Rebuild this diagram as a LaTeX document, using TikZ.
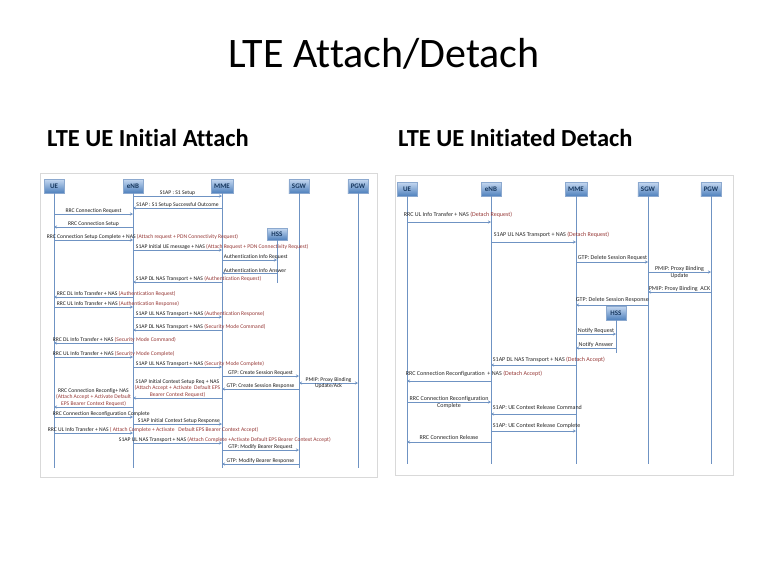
\documentclass[tikz,border=0pt]{standalone}
\usepackage{fontspec}
\setmainfont{Carlito}[Ligatures=NoCommon]
\usetikzlibrary{arrows.meta}
\definecolor{lifeblue}{HTML}{6F93C3}
\definecolor{boxtop}{HTML}{C6D9F1}
\definecolor{boxbot}{HTML}{4F81BD}
\definecolor{boxtext}{HTML}{17375E}
\definecolor{nasred}{HTML}{953735}
\definecolor{framegray}{HTML}{D9D9D9}
\newcommand{\nr}[1]{\textcolor{nasred}{#1}}
\newcommand{\msg}[5]{\draw[msg] (#1 |- 0,#3) -- node[#4]{#5} (#2 |- 0,#3);}

\begin{document}
\begin{tikzpicture}[x=1pt, y=-1pt,
      actor/.style={draw=lifeblue!80, top color=boxtop, bottom color=boxbot, text=boxtext,
                    font=\bfseries\fontsize{7}{8}\selectfont, minimum width=20pt,
                    minimum height=14pt, inner xsep=3pt, inner ysep=1pt},
      life/.style={draw=lifeblue, line width=1pt},
      msg/.style={-{Stealth[length=3pt,width=3pt]}, lifeblue, line width=0.9pt},
      lbl/.style={font=\fontsize{5.6}{6.4}\selectfont, text=black!90, inner sep=0.5pt},
      lblD/.style={font=\fontsize{6}{7}\selectfont, text=black!85, inner sep=0.5pt},
      pane/.style={draw=framegray, line width=0.8pt}
    ]
      \useasboundingbox (0,0) rectangle (768,576);
      \node[anchor=base, inner sep=0pt, font=\fontsize{42}{42}\selectfont] (title) at (384,67) {LTE Attach/Detach};
      \node[anchor=base west, inner sep=0pt, font=\bfseries\fontsize{24.5}{26}\selectfont] (attach) at (47,146) {LTE UE Initial Attach};
      \node[anchor=base west, inner sep=0pt, font=\bfseries\fontsize{24.5}{26}\selectfont] (detach) at (398,146) {LTE UE Initiated Detach};

      \draw[pane] (40,173) rectangle (377,477);
      \draw[pane] (395,175) rectangle (733,475);

      \foreach \n/\x/\t in {ueA/54/UE, enbA/133/eNB, mmeA/222/MME, sgwA/299/SGW, pgwA/358/PGW}
        \node[actor] (\n) at (\x,186) {\t};
      \foreach \n in {ueA, enbA, mmeA, sgwA, pgwA}
        \draw[life] (\n.south) -- (\n |- 0,468);
      \node[actor, minimum height=12pt] (hssA) at (277,234) {HSS};
      \draw[life] (hssA.south) -- (hssA |- 0,283);

      \msg{enbA}{mmeA}{196}{lbl,midway,above}{S1AP : S1 Setup}
      \msg{mmeA}{enbA}{208}{lbl,midway,above}{S1AP : S1 Setup Successful Outcome}
      \msg{ueA}{enbA}{214}{lbl,midway,above}{RRC Connection Request}
      \msg{enbA}{ueA}{227}{lbl,midway,above}{RRC Connection Setup}
      \msg{ueA}{enbA}{240}{lbl,pos=0,anchor=south west,xshift=-8}{RRC Connection Setup Complete + NAS \nr{(Attach request + PDN Connectivity Request)}}
      \msg{enbA}{mmeA}{250}{lbl,pos=0,anchor=south west,xshift=2}{S1AP Initial UE message + NAS \nr{(Attach Request + PDN Connectivity Request)}}
      \msg{mmeA}{hssA}{260}{lbl,pos=0,anchor=south west,xshift=1}{Authentication Info Request}
      \msg{hssA}{mmeA}{273}{lbl,pos=1,anchor=south west,xshift=1}{Authentication Info Answer}
      \msg{mmeA}{enbA}{282}{lbl,pos=1,anchor=south west,xshift=2}{S1AP DL NAS Transport + NAS \nr{(Authentication Request)}}
      \msg{enbA}{ueA}{297}{lbl,pos=1,anchor=south west,xshift=2}{RRC DL Info Transfer + NAS \nr{(Authentication Request)}}
      \msg{ueA}{enbA}{307}{lbl,pos=0,anchor=south west,xshift=2}{RRC UL Info Transfer + NAS \nr{(Authentication Response)}}
      \msg{enbA}{mmeA}{317}{lbl,pos=0,anchor=south west,xshift=2}{S1AP UL NAS Transport + NAS \nr{(Authentication Response)}}
      \msg{mmeA}{enbA}{330}{lbl,pos=1,anchor=south west,xshift=2}{S1AP DL NAS Transport + NAS \nr{(Security Mode Command)}}
      \msg{enbA}{ueA}{343}{lbl,pos=1,anchor=south west,xshift=-2}{RRC DL Info Transfer + NAS \nr{(Security Mode Command)}}
      \msg{ueA}{enbA}{357}{lbl,pos=0,anchor=south west,xshift=-2}{RRC UL Info Transfer + NAS \nr{(Security Mode Complete)}}
      \msg{enbA}{mmeA}{367}{lbl,pos=0,anchor=south west,xshift=2}{S1AP UL NAS Transport + NAS \nr{(Security Mode Complete)}}
      \msg{mmeA}{sgwA}{376}{lbl,midway,above}{GTP: Create Session Request}
      \draw[msg, {Stealth[length=3pt,width=3pt]}-{Stealth[length=3pt,width=3pt]}] (sgwA |- 0,383)
        -- node[lbl,above]{PMIP: Proxy Binding} node[lbl,below]{Update/Ack} (pgwA |- 0,383);
      \msg{sgwA}{mmeA}{389}{lbl,midway,above}{GTP: Create Session Response}
      \msg{mmeA}{enbA}{398}{lbl,midway,above,align=center}{S1AP Initial Context Setup Req + NAS\\\nr{(Attach Accept + Activate~ Default EPS}\\\nr{Bearer Context Request)}}
      \msg{enbA}{ueA}{407}{lbl,midway,above,align=center}{RRC Connection Reconfig+ NAS\\\nr{(Attach Accept + Activate Default}\\\nr{EPS Bearer Context Request)}}
      \msg{ueA}{enbA}{417}{lbl,pos=0,anchor=south west,xshift=-2}{RRC Connection Reconfiguration Complete}
      \msg{enbA}{mmeA}{424}{lbl,pos=0,anchor=south west,xshift=4}{S1AP Initial Context Setup Response}
      \msg{ueA}{enbA}{433}{lbl,pos=0,anchor=south west,xshift=-7}{RRC UL Info Transfer + NAS \nr{( Attach Complete + Activate~~ Default EPS Bearer Context Accept)}}
      \msg{enbA}{mmeA}{443}{lbl,pos=0,anchor=south west,xshift=-15}{S1AP UL NAS Transport + NAS \nr{(Attach Complete +Activate Default EPS Bearer Context Accept)}}
      \msg{mmeA}{sgwA}{450}{lbl,midway,above}{GTP: Modify Bearer Request}
      \msg{sgwA}{mmeA}{464}{lbl,midway,above}{GTP: Modify Bearer Response}

      \foreach \n/\x/\t in {ueD/407/UE, enbD/491/eNB, mmeD/576/MME, sgwD/648/SGW, pgwD/711/PGW}
        \node[actor] (\n) at (\x,189) {\t};
      \foreach \n in {ueD, enbD, mmeD, sgwD, pgwD}
        \draw[life] (\n.south) -- (\n |- 0,464);
      \node[actor] (hssD) at (616,313) {HSS};
      \draw[life] (hssD.south) -- (hssD |- 0,353);

      \msg{ueD}{enbD}{222}{lblD,pos=0,anchor=south west,xshift=-4,yshift=4}{RRC UL Info Transfer + NAS \nr{(Detach Request)}}
      \msg{enbD}{mmeD}{242}{lblD,pos=0,anchor=south west,xshift=2,yshift=4}{S1AP UL NAS Transport + NAS \nr{(Detach Request)}}
      \msg{mmeD}{sgwD}{262}{lblD,pos=0,anchor=south west,xshift=1,yshift=1}{GTP: Delete Session Request}
      \draw[msg] (sgwD |- 0,272) -- node[lblD,above]{PMIP: Proxy Binding} node[lblD,below]{Update} (pgwD |- 0,272);
      \msg{pgwD}{sgwD}{292}{lblD,midway,above}{PMIP: Proxy Binding~ ACK}
      \msg{sgwD}{mmeD}{305}{lblD,pos=1,anchor=south west,xshift=-1,yshift=2}{GTP: Delete Session Response}
      \msg{mmeD}{hssD}{334}{lblD,midway,above}{Notify Request}
      \msg{hssD}{mmeD}{348}{lblD,midway,above}{Notify Answer}
      \msg{mmeD}{enbD}{365}{lblD,pos=1,anchor=south west,xshift=1,yshift=2}{S1AP DL NAS Transport + NAS \nr{(Detach Accept)}}
      \msg{enbD}{ueD}{381}{lblD,pos=1,anchor=south west,xshift=-2,yshift=4}{RRC Connection Reconfiguration~ + NAS \nr{(Detach Accept)}}
      \draw[msg] (ueD |- 0,402) -- node[lblD,above]{RRC Connection Reconfiguration} node[lblD,below]{Complete} (enbD |- 0,402);
      \msg{mmeD}{enbD}{414}{lblD,pos=1,anchor=south west,xshift=1,yshift=4}{S1AP: UE Context Release Command}
      \msg{enbD}{mmeD}{431}{lblD,pos=0,anchor=south west,xshift=1,yshift=2}{S1AP: UE Context Release Complete}
      \msg{enbD}{ueD}{442}{lblD,midway,above,yshift=2}{RRC Connection Release}
    \end{tikzpicture}
\end{document}
